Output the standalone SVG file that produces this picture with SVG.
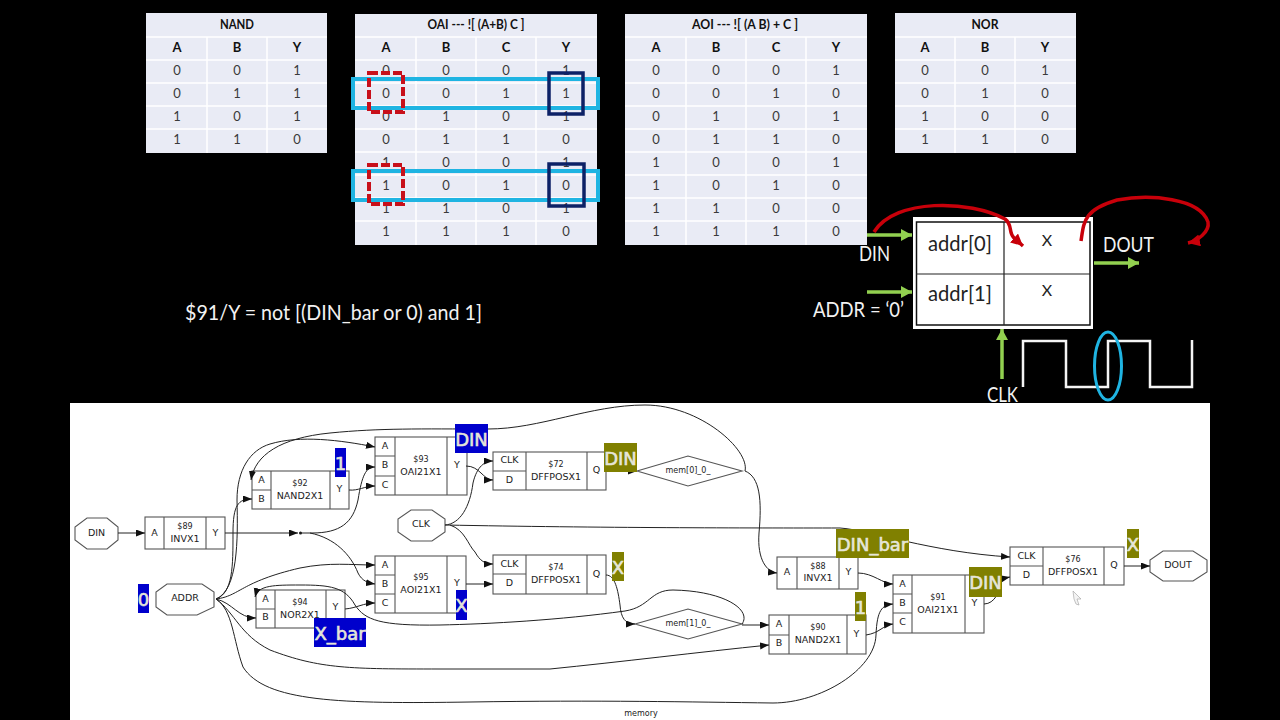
<svg xmlns="http://www.w3.org/2000/svg" width="1280" height="720" viewBox="0 0 1280 720">
<style>
.tb{fill:#e9ebf5}
.gl{stroke:#fff;stroke-width:1.5;fill:none}
.tt{font:13px Lato,"Liberation Sans",sans-serif;fill:#3a3a3a;text-anchor:middle;dominant-baseline:central}
.th{font:bold 13px Lato,"Liberation Sans",sans-serif;fill:#111;text-anchor:middle;dominant-baseline:central}
.ov{font:21px Lato,"Open Sans",sans-serif;fill:#f2f2f2;text-anchor:middle;dominant-baseline:central}
.nd{fill:#fff;stroke:#555;stroke-width:1.1}
.nl{fill:none;stroke:#555;stroke-width:1.1}
.n{font:9.5px "DejaVu Sans",sans-serif;fill:#222;text-anchor:middle;dominant-baseline:central}
.s{font:8px "DejaVu Sans",sans-serif;fill:#222;text-anchor:middle;dominant-baseline:central}
.c{fill:none;stroke:#222;stroke-width:1}
.a{marker-end:url(#ah)}
.bl{fill:#0000cc}.ol{fill:#808000}
.lt{font:18px "DejaVu Sans",sans-serif;fill:#e6e6d8;stroke:#e6e6d8;stroke-width:.6;text-anchor:middle;dominant-baseline:central}
.g{stroke:#92d050;stroke-width:3.5;fill:none;marker-end:url(#gh)}
.r{stroke:#c8000a;stroke-width:3.5;fill:none;marker-end:url(#rh)}
.cy{fill:none;stroke:#1fb4e2;stroke-width:4}
.rd{fill:none;stroke:#c8101a;stroke-width:4;stroke-dasharray:9 3}
.nv{fill:none;stroke:#0c2166;stroke-width:3.5}
.mt{font:22px Lato,sans-serif;fill:#222;text-anchor:middle;dominant-baseline:central}
.mx{font:16px Lato,sans-serif;fill:#222;text-anchor:middle;dominant-baseline:central}
</style>
<defs>
<marker id="ah" markerUnits="userSpaceOnUse" markerWidth="10" markerHeight="8" refX="9" refY="3.500" orient="auto"><path d="M0 0L9 3.500L0 7Z" fill="#111"/></marker>
<marker id="gh" markerUnits="userSpaceOnUse" markerWidth="13" markerHeight="13" refX="11" refY="6" orient="auto"><path d="M0 0L11 6L0 12Z" fill="#92d050"/></marker>
<marker id="rh" markerUnits="userSpaceOnUse" markerWidth="13" markerHeight="13" refX="12" refY="6" orient="auto"><path d="M0 0L12 6L0 12Z" fill="#c8000a"/></marker>
</defs>
<rect width="1280" height="720" fill="#000"/>

<g id="table-nand">
<rect class="tb" x="146" y="13" width="181" height="140"/>
<path class="gl" d="M146 37H327M146 60H327M146 83H327M146 106H327M146 129H327M207 37V153M267 37V153"/>
<text class="th" x="237" y="24" textLength="34" lengthAdjust="spacingAndGlyphs">NAND</text>
<text class="th" x="177" y="47">A</text><text class="th" x="237" y="47">B</text><text class="th" x="297" y="47">Y</text>
<text class="tt" x="177" y="70">0</text><text class="tt" x="237" y="70">0</text><text class="tt" x="297" y="70">1</text>
<text class="tt" x="177" y="93">0</text><text class="tt" x="237" y="93">1</text><text class="tt" x="297" y="93">1</text>
<text class="tt" x="177" y="116">1</text><text class="tt" x="237" y="116">0</text><text class="tt" x="297" y="116">1</text>
<text class="tt" x="177" y="139">1</text><text class="tt" x="237" y="139">1</text><text class="tt" x="297" y="139">0</text>
</g>
<g id="table-oai">
<rect class="tb" x="355" y="14" width="242" height="231"/>
<path class="gl" d="M355 37H597M355 60H597M355 83H597M355 106H597M355 129H597M355 152H597M355 175H597M355 198H597M355 221H597M416 37V245M476 37V245M536 37V245"/>
<text class="th" x="476" y="24" textLength="97" lengthAdjust="spacingAndGlyphs">OAI --- ![ (A+B) C ]</text>
<text class="th" x="386" y="47">A</text><text class="th" x="446" y="47">B</text><text class="th" x="506" y="47">C</text><text class="th" x="566" y="47">Y</text>
<text class="tt" x="386" y="70">0</text><text class="tt" x="446" y="70">0</text><text class="tt" x="506" y="70">0</text><text class="tt" x="566" y="70">1</text>
<text class="tt" x="386" y="93">0</text><text class="tt" x="446" y="93">0</text><text class="tt" x="506" y="93">1</text><text class="tt" x="566" y="93">1</text>
<text class="tt" x="386" y="116">0</text><text class="tt" x="446" y="116">1</text><text class="tt" x="506" y="116">0</text><text class="tt" x="566" y="116">1</text>
<text class="tt" x="386" y="139">0</text><text class="tt" x="446" y="139">1</text><text class="tt" x="506" y="139">1</text><text class="tt" x="566" y="139">0</text>
<text class="tt" x="386" y="162">1</text><text class="tt" x="446" y="162">0</text><text class="tt" x="506" y="162">0</text><text class="tt" x="566" y="162">1</text>
<text class="tt" x="386" y="185">1</text><text class="tt" x="446" y="185">0</text><text class="tt" x="506" y="185">1</text><text class="tt" x="566" y="185">0</text>
<text class="tt" x="386" y="208">1</text><text class="tt" x="446" y="208">1</text><text class="tt" x="506" y="208">0</text><text class="tt" x="566" y="208">1</text>
<text class="tt" x="386" y="231">1</text><text class="tt" x="446" y="231">1</text><text class="tt" x="506" y="231">1</text><text class="tt" x="566" y="231">0</text>
</g>
<g id="table-oai-highlights">
<rect class="cy" x="353" y="79" width="245" height="29"/>
<rect class="cy" x="353" y="171" width="245" height="29"/>
<rect class="rd" x="369" y="73" width="34" height="39"/>
<rect class="rd" x="369" y="165" width="34" height="39"/>
<rect class="nv" x="549" y="73" width="34" height="41"/>
<rect class="nv" x="549" y="164" width="35" height="42"/>
</g>
<g id="table-aoi">
<rect class="tb" x="625" y="14" width="242" height="231"/>
<path class="gl" d="M625 37H867M625 60H867M625 83H867M625 106H867M625 129H867M625 152H867M625 175H867M625 198H867M625 221H867M686 37V245M746 37V245M806 37V245"/>
<text class="th" x="745" y="24" textLength="106" lengthAdjust="spacingAndGlyphs">AOI --- ![ (A B) + C ]</text>
<text class="th" x="656" y="47">A</text><text class="th" x="716" y="47">B</text><text class="th" x="776" y="47">C</text><text class="th" x="836" y="47">Y</text>
<text class="tt" x="656" y="70">0</text><text class="tt" x="716" y="70">0</text><text class="tt" x="776" y="70">0</text><text class="tt" x="836" y="70">1</text>
<text class="tt" x="656" y="93">0</text><text class="tt" x="716" y="93">0</text><text class="tt" x="776" y="93">1</text><text class="tt" x="836" y="93">0</text>
<text class="tt" x="656" y="116">0</text><text class="tt" x="716" y="116">1</text><text class="tt" x="776" y="116">0</text><text class="tt" x="836" y="116">1</text>
<text class="tt" x="656" y="139">0</text><text class="tt" x="716" y="139">1</text><text class="tt" x="776" y="139">1</text><text class="tt" x="836" y="139">0</text>
<text class="tt" x="656" y="162">1</text><text class="tt" x="716" y="162">0</text><text class="tt" x="776" y="162">0</text><text class="tt" x="836" y="162">1</text>
<text class="tt" x="656" y="185">1</text><text class="tt" x="716" y="185">0</text><text class="tt" x="776" y="185">1</text><text class="tt" x="836" y="185">0</text>
<text class="tt" x="656" y="208">1</text><text class="tt" x="716" y="208">1</text><text class="tt" x="776" y="208">0</text><text class="tt" x="836" y="208">0</text>
<text class="tt" x="656" y="231">1</text><text class="tt" x="716" y="231">1</text><text class="tt" x="776" y="231">1</text><text class="tt" x="836" y="231">0</text>
</g>
<g id="table-nor">
<rect class="tb" x="895" y="13" width="181" height="140"/>
<path class="gl" d="M895 37H1076M895 60H1076M895 83H1076M895 106H1076M895 129H1076M955 37V153M1015 37V153"/>
<text class="th" x="985" y="24" textLength="27" lengthAdjust="spacingAndGlyphs">NOR</text>
<text class="th" x="925" y="47">A</text><text class="th" x="985" y="47">B</text><text class="th" x="1045" y="47">Y</text>
<text class="tt" x="925" y="70">0</text><text class="tt" x="985" y="70">0</text><text class="tt" x="1045" y="70">1</text>
<text class="tt" x="925" y="93">0</text><text class="tt" x="985" y="93">1</text><text class="tt" x="1045" y="93">0</text>
<text class="tt" x="925" y="116">1</text><text class="tt" x="985" y="116">0</text><text class="tt" x="1045" y="116">0</text>
<text class="tt" x="925" y="139">1</text><text class="tt" x="985" y="139">1</text><text class="tt" x="1045" y="139">0</text>
</g>

<text x="185" y="311" font-family="Lato,'Open Sans',sans-serif" font-size="21" fill="#f2f2f2" dominant-baseline="central" textLength="297" lengthAdjust="spacingAndGlyphs">$91/Y = not [(DIN_bar or 0) and 1]</text>

<g id="memory-block">
<rect x="913" y="217" width="180" height="112" fill="#fff"/>
<rect x="916.500" y="222" width="173.500" height="103" fill="#fff" stroke="#111" stroke-width="1.5"/>
<path d="M1004 222V325M916 274H1090" stroke="#222" stroke-width="1.2" fill="none"/>
<text class="mt" x="960" y="242" textLength="64" lengthAdjust="spacingAndGlyphs">addr[0]</text>
<text class="mt" x="960" y="292" textLength="64" lengthAdjust="spacingAndGlyphs">addr[1]</text>
<text class="mx" x="1047" y="239">X</text>
<text class="mx" x="1047" y="289">X</text>
</g>
<g id="memory-arrows">
<path class="g" d="M867 235H912"/><path class="g" d="M867 292H912"/><path class="g" d="M1094 263H1139"/><path class="g" d="M1002 379V329"/>
<path class="r" d="M874 232C895 198 970 200 1005 219C1013 225 1008 232 1014 238L1023 246"/>
<path class="r" d="M1081 241C1084 222 1083 210 1117 200C1150 194 1200 198 1208 222C1210 232 1197 241 1188 243"/>
</g>
<text class="ov" x="874.500" y="252" textLength="31" lengthAdjust="spacingAndGlyphs">DIN</text>
<text class="ov" x="1128.500" y="243" textLength="51" lengthAdjust="spacingAndGlyphs">DOUT</text>
<text class="ov" x="858.500" y="308" textLength="91" lengthAdjust="spacingAndGlyphs">ADDR = ‘0’</text>
<text class="ov" x="1002.500" y="393" textLength="31" lengthAdjust="spacingAndGlyphs">CLK</text>
<polyline points="1023,387 1023,341 1066,341 1066,387 1108,387 1108,341 1150,341 1150,387 1192,387 1192,340" fill="none" stroke="#f4f4f4" stroke-width="2.500"/>
<ellipse cx="1108" cy="366" rx="13.500" ry="34" fill="none" stroke="#1fb4e2" stroke-width="3"/>

<rect x="70" y="403" width="1140" height="317" fill="#fff"/>
<text class="s" x="641" y="713">memory</text>

<g id="n-din"><polygon class="nd" points="87,518 107,518 118,527 118,540 107,549 87,549 75,540 75,527"/><text class="n" x="96.500" y="532">DIN</text></g>
<g id="n-addr"><polygon class="nd" points="167,584 202,584 214,592 214,607 197,615 167,615 156,607 156,592"/><text class="n" x="185" y="597">ADDR</text></g>
<g id="n-clk"><polygon class="nd" points="411,510 432,510 445,519 445,532 432,541 411,541 398,532 398,519"/><text class="n" x="421" y="523">CLK</text></g>
<g id="n-dout"><polygon class="nd" points="1163,551 1193,551 1207,560 1207,572 1193,581 1163,581 1150,572 1150,560"/><text class="n" x="1178" y="564">DOUT</text></g>

<g id="n-89"><rect class="nd" x="145" y="517" width="80" height="32"/><path class="nl" d="M164 517V549M206 517V549"/><text class="n" x="154.500" y="532">A</text><text class="s" x="185" y="526">$89</text><text class="n" x="185" y="538">INVX1</text><text class="n" x="215.500" y="532">Y</text></g>
<g id="n-92"><rect class="nd" x="252" y="471" width="97" height="38"/><path class="nl" d="M271 471V509M330 471V509M252 490H271"/><text class="n" x="261.500" y="479">A</text><text class="n" x="261.500" y="498">B</text><text class="s" x="300" y="483">$92</text><text class="n" x="300" y="495">NAND2X1</text><text class="n" x="339.500" y="488">Y</text></g>
<g id="n-93"><rect class="nd" x="375" y="437" width="92" height="58"/><path class="nl" d="M395 437V495M447 437V495M375 456H395M375 476H395"/><text class="n" x="385" y="445">A</text><text class="n" x="385" y="464">B</text><text class="n" x="385" y="484">C</text><text class="s" x="421" y="459">$93</text><text class="n" x="421" y="471">OAI21X1</text><text class="n" x="457" y="464">Y</text></g>
<g id="n-95"><rect class="nd" x="375" y="556" width="91" height="57"/><path class="nl" d="M395 556V613M447 556V613M375 575H395M375 594H395"/><text class="n" x="385" y="564">A</text><text class="n" x="385" y="583">B</text><text class="n" x="385" y="602">C</text><text class="s" x="421" y="577">$95</text><text class="n" x="421" y="589">AOI21X1</text><text class="n" x="457" y="582">Y</text></g>
<g id="n-94"><rect class="nd" x="256" y="590" width="89" height="38"/><path class="nl" d="M275 590V628M326 590V628M256 609H275"/><text class="n" x="265.500" y="598">A</text><text class="n" x="265.500" y="616">B</text><text class="s" x="300" y="602">$94</text><text class="n" x="300" y="614">NOR2X1</text><text class="n" x="335.500" y="606">Y</text></g>
<g id="n-72"><rect class="nd" x="493" y="452" width="113" height="38"/><path class="nl" d="M526 452V490M587 452V490M493 471H526"/><text class="n" x="509.500" y="459">CLK</text><text class="n" x="509.500" y="479">D</text><text class="s" x="556" y="464">$72</text><text class="n" x="556" y="476">DFFPOSX1</text><text class="n" x="596.500" y="469">Q</text></g>
<g id="n-74"><rect class="nd" x="493" y="555" width="113" height="39"/><path class="nl" d="M526 555V594M587 555V594M493 574H526"/><text class="n" x="509.500" y="563">CLK</text><text class="n" x="509.500" y="582">D</text><text class="s" x="556" y="567">$74</text><text class="n" x="556" y="579">DFFPOSX1</text><text class="n" x="596.500" y="573">Q</text></g>
<g id="n-mem0"><polygon class="nd" points="637,471 688,456 742,471 688,486"/><text class="s" x="688" y="470">mem[0]_0_</text></g>
<g id="n-mem1"><polygon class="nd" points="635,624 688,609 742,624 688,639"/><text class="s" x="688" y="623">mem[1]_0_</text></g>
<g id="n-88"><rect class="nd" x="777" y="557" width="81" height="32"/><path class="nl" d="M797 557V589M839 557V589"/><text class="n" x="787" y="571">A</text><text class="s" x="818" y="566">$88</text><text class="n" x="818" y="577">INVX1</text><text class="n" x="848.500" y="571">Y</text></g>
<g id="n-90"><rect class="nd" x="769" y="615" width="97" height="39"/><path class="nl" d="M789 615V654M847 615V654M769 635H789"/><text class="n" x="779" y="623">A</text><text class="n" x="779" y="642">B</text><text class="s" x="818" y="627">$90</text><text class="n" x="818" y="639">NAND2X1</text><text class="n" x="856.500" y="633">Y</text></g>
<g id="n-91"><rect class="nd" x="893" y="575" width="91" height="58"/><path class="nl" d="M912 575V633M965 575V633M893 594H912M893 613H912"/><text class="n" x="902.500" y="583">A</text><text class="n" x="902.500" y="602">B</text><text class="n" x="902.500" y="621">C</text><text class="s" x="938" y="597">$91</text><text class="n" x="938" y="609">OAI21X1</text><text class="n" x="974.500" y="602">Y</text></g>
<g id="n-76"><rect class="nd" x="1010" y="547" width="114" height="38"/><path class="nl" d="M1043 547V585M1104 547V585M1010 566H1043"/><text class="n" x="1026.500" y="555">CLK</text><text class="n" x="1026.500" y="574">D</text><text class="s" x="1073" y="559">$76</text><text class="n" x="1073" y="571">DFFPOSX1</text><text class="n" x="1114" y="564">Q</text></g>

<g id="connectors">
<path class="c a" d="M118 533H145"/>
<path class="c a" d="M225 533H298"/>
<circle cx="300.500" cy="533" r="1.500" fill="#111"/>
<path class="c a" d="M300 533H312C340 533 353 523 358 500C362 475 366 467 375 467"/>
<path class="c a" d="M310 533C335 538 351 555 358 573C362 581 368 583 375 584"/>
<path class="c a" d="M349 490C358 491 365 486 375 486"/>
<path class="c a" d="M216 599C233 593 233 566 233 533C233 505 238 499 252 499"/>
<path class="c a" d="M216 599C238 590 238 540 237 500C237 470 250 450 270 444C300 435 340 440 375 447"/>
<path class="c a" d="M745 471C750 450 700 405 645 405C590 405 540 429 488 429C420 429 380 428 330 433C280 438 255 455 251 480"/>
<path class="c a" d="M216 599C240 596 240 582 300 568C330 562 350 565 375 565"/>
<path class="c a" d="M216 599C233 603 238 618 256 618"/>
<path class="c a" d="M742 624C752 610 725 591 673 590C650 590 650 607 625 611C560 620 490 624 440 625C380 626 365 620 355 605C345 587 330 585 300 585C275 585 258 585 255 597"/>
<path class="c a" d="M216 599C235 613 240 635 270 650C320 669 350 669 440 669H550C620 662 700 652 769 645"/>
<path class="c a" d="M216 599C233 610 233 640 243 667C265 702 340 704 470 702C600 700 690 702 773 703C820 703 875 670 876 635C877 610 882 605 893 604"/>
<path class="c a" d="M445 525C460 524 470 507 473 483C477 466 485 461 493 461"/>
<path class="c a" d="M450 525C465 530 468 545 475 552C480 561 485 564 493 564"/>
<path class="c a" d="M445 525C600 528 750 528 840 528C870 530 930 552 1010 557"/>
<path class="c a" d="M466 466C480 466 483 480 493 480"/>
<path class="c a" d="M466 584H493"/>
<path class="c a" d="M345 609C357 608 363 603 375 603"/>
<path class="c a" d="M606 471H637"/>
<path class="c a" d="M606 575C615 575 618 590 620 605C621 618 625 624 635 624"/>
<path class="c a" d="M745 471C760 477 762 500 759 533C757 560 767 572 777 573"/>
<path class="c a" d="M742 625H769"/>
<path class="c a" d="M858 573C873 573 883 584 893 584"/>
<path class="c a" d="M866 635C880 633 883 625 893 624"/>
<path class="c a" d="M984 604C995 604 1000 590 1000 585C1001 580 1005 578 1010 577"/>
<path class="c a" d="M1124 566H1150"/>
</g>

<g id="labels">
<rect class="bl" x="455" y="424" width="33" height="29"/><text class="lt" x="471.500" y="439">DIN</text>
<rect class="bl" x="335" y="448" width="11" height="29"/><text class="lt" x="340.500" y="463">1</text>
<rect class="bl" x="138" y="584" width="11" height="29"/><text class="lt" x="143.500" y="599">0</text>
<rect class="bl" x="456" y="590" width="11" height="30"/><text class="lt" x="461.500" y="605">X</text>
<rect class="bl" x="314" y="618" width="52" height="29"/><text class="lt" x="340" y="633">X_bar</text>
<rect class="ol" x="604" y="443" width="33" height="29"/><text class="lt" x="620.500" y="458">DIN</text>
<rect class="ol" x="612" y="552" width="12" height="29"/><text class="lt" x="618" y="567">X</text>
<rect class="ol" x="836" y="529" width="73" height="29"/><text class="lt" x="872.500" y="544">DIN_bar</text>
<rect class="ol" x="1127" y="529" width="12" height="29"/><text class="lt" x="1133" y="544">X</text>
<rect class="ol" x="855" y="592" width="11" height="29"/><text class="lt" x="860.500" y="607">1</text>
<rect class="ol" x="969" y="567" width="33" height="30"/><text class="lt" x="985.500" y="582">DIN</text>
</g>
<path d="M1073 591L1081 599L1077 599L1079 605L1076 604L1074 599Z" fill="#f4f4f4" stroke="#aaa" stroke-width=".7"/>
</svg>
